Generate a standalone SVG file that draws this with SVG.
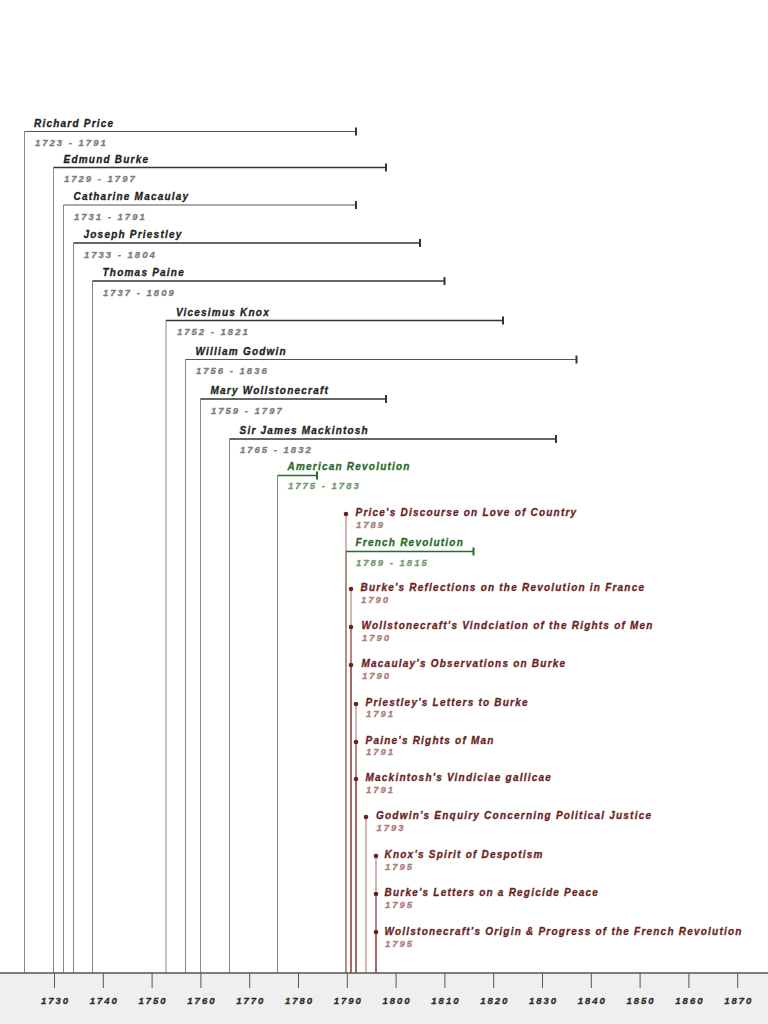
<svg xmlns="http://www.w3.org/2000/svg" width="768" height="1024" viewBox="0 0 768 1024">
<style>
text{font-family:"Liberation Sans",Arial,sans-serif;font-weight:bold;font-style:italic;stroke-width:0.3px}
.nm{font-size:10px;letter-spacing:1.22px;fill:#1e241e;stroke:#1e241e}
.dt{font-size:9.5px;letter-spacing:2px;fill:#7c7c7c;stroke:#7c7c7c}
.gn{font-size:10px;letter-spacing:1.22px;fill:#2a6a2a;stroke:#2a6a2a}
.gd{font-size:9.5px;letter-spacing:2px;fill:#6f9a6f;stroke:#6f9a6f}
.en{font-size:10px;letter-spacing:1.22px;fill:#6b1f1f;stroke:#6b1f1f}
.ey{font-size:9.5px;letter-spacing:2px;fill:#ad7c7c;stroke:#ad7c7c}
.ax{font-size:9.5px;letter-spacing:2px;fill:#2a2a2a;stroke:#2a2a2a;text-anchor:middle}
.bar{stroke:#2f372f;stroke-width:1.5;fill:none}
.bar.thin{stroke:#555;stroke-width:1}
.end{stroke:#2f372f;stroke-width:2}
.gbar{stroke:#2a6a2a;stroke-width:1.5;fill:none}
.gend{stroke:#2a6a2a;stroke-width:2}
.drop{stroke:#8a8a8a;stroke-width:1;fill:none}
.gdrop{stroke:#6f9a6f;stroke-width:1;fill:none}
.edrop{stroke:#8b2f2f;stroke-opacity:0.55;stroke-width:1.3;fill:none}
.dot{fill:#6b1f1f}
.tick{stroke:#555;stroke-width:1}
</style>

<g id="connectors">
<line class="drop" x1="24.5" y1="131.5" x2="24.5" y2="973"/>
<line class="drop" x1="53.5" y1="167.5" x2="53.5" y2="973"/>
<line class="drop" x1="63.5" y1="205" x2="63.5" y2="973"/>
<line class="drop" x1="73.5" y1="243" x2="73.5" y2="973"/>
<line class="drop" x1="92.5" y1="281" x2="92.5" y2="973"/>
<line class="drop" x1="166" y1="320.5" x2="166" y2="973"/>
<line class="drop" x1="185.5" y1="359.5" x2="185.5" y2="973"/>
<line class="drop" x1="200.5" y1="399" x2="200.5" y2="973"/>
<line class="drop" x1="229.5" y1="439" x2="229.5" y2="973"/>
<line class="gdrop" x1="277.5" y1="475.5" x2="277.5" y2="973"/>
<line class="gdrop" x1="346" y1="551.5" x2="346" y2="973"/>
<line class="edrop" x1="346" y1="514" x2="346" y2="973"/>
<line class="edrop" x1="351" y1="589" x2="351" y2="973"/>
<line class="edrop" x1="351" y1="627" x2="351" y2="973"/>
<line class="edrop" x1="351" y1="665" x2="351" y2="973"/>
<line class="edrop" x1="356" y1="704" x2="356" y2="973"/>
<line class="edrop" x1="356" y1="742" x2="356" y2="973"/>
<line class="edrop" x1="356" y1="779" x2="356" y2="973"/>
<line class="edrop" x1="366" y1="817" x2="366" y2="973"/>
<line class="edrop" x1="376" y1="856" x2="376" y2="973"/>
<line class="edrop" x1="376" y1="894" x2="376" y2="973"/>
<line class="edrop" x1="376" y1="932" x2="376" y2="973"/>
</g>

<g id="price">
<line class="bar thin" x1="24.5" y1="131.5" x2="356" y2="131.5"/>
<line class="end" x1="356" y1="127.5" x2="356" y2="135.5"/>
<text class="nm" x="34" y="127">Richard Price</text>
<text class="dt" x="35" y="146">1723 - 1791</text>
</g>
<g id="burke">
<line class="bar" x1="53.5" y1="167.5" x2="386" y2="167.5"/>
<line class="end" x1="386" y1="163.5" x2="386" y2="171.5"/>
<text class="nm" x="63.5" y="162.5">Edmund Burke</text>
<text class="dt" x="64" y="181.5">1729 - 1797</text>
</g>
<g id="macaulay">
<line class="bar thin" x1="63.5" y1="205" x2="356" y2="205"/>
<line class="end" x1="356" y1="201" x2="356" y2="209"/>
<text class="nm" x="73.5" y="200">Catharine Macaulay</text>
<text class="dt" x="74" y="219.5">1731 - 1791</text>
</g>
<g id="priestley">
<line class="bar" x1="73.5" y1="243" x2="420" y2="243"/>
<line class="end" x1="420" y1="239" x2="420" y2="247"/>
<text class="nm" x="83.5" y="238">Joseph Priestley</text>
<text class="dt" x="84" y="257.5">1733 - 1804</text>
</g>
<g id="paine">
<line class="bar" x1="92.5" y1="281" x2="444.5" y2="281"/>
<line class="end" x1="444.5" y1="277" x2="444.5" y2="285"/>
<text class="nm" x="102.5" y="276">Thomas Paine</text>
<text class="dt" x="103" y="295.5">1737 - 1809</text>
</g>
<g id="knox">
<line class="bar" x1="166" y1="320.5" x2="503" y2="320.5"/>
<line class="end" x1="503" y1="316.5" x2="503" y2="324.5"/>
<text class="nm" x="176" y="315.5">Vicesimus Knox</text>
<text class="dt" x="177" y="335">1752 - 1821</text>
</g>
<g id="godwin">
<line class="bar thin" x1="185.5" y1="359.5" x2="576.5" y2="359.5"/>
<line class="end" x1="576.5" y1="355.5" x2="576.5" y2="363.5"/>
<text class="nm" x="195.5" y="354.5">William Godwin</text>
<text class="dt" x="196" y="374">1756 - 1836</text>
</g>
<g id="wollstonecraft">
<line class="bar" x1="200.5" y1="399" x2="386" y2="399"/>
<line class="end" x1="386" y1="395" x2="386" y2="403"/>
<text class="nm" x="210.5" y="394">Mary Wollstonecraft</text>
<text class="dt" x="211" y="413.5">1759 - 1797</text>
</g>
<g id="mackintosh">
<line class="bar" x1="229.5" y1="439" x2="556" y2="439"/>
<line class="end" x1="556" y1="435" x2="556" y2="443"/>
<text class="nm" x="239.5" y="433.5">Sir James Mackintosh</text>
<text class="dt" x="240" y="453">1765 - 1832</text>
</g>
<g id="american-revolution">
<line class="gbar" x1="277.5" y1="475.5" x2="317" y2="475.5"/>
<line class="gend" x1="317" y1="471.5" x2="317" y2="479.5"/>
<text class="gn" x="287.5" y="469.5">American Revolution</text>
<text class="gd" x="288" y="488.5">1775 - 1783</text>
</g>
<g id="french-revolution">
<line class="gbar" x1="346" y1="551.5" x2="473.5" y2="551.5"/>
<line class="gend" x1="473.5" y1="547.5" x2="473.5" y2="555.5"/>
<text class="gn" x="355.5" y="546">French Revolution</text>
<text class="gd" x="356" y="565.5">1789 - 1815</text>
</g>

<g id="ev-price-discourse">
<circle class="dot" cx="346" cy="514" r="2.3"/>
<text class="en" x="355.5" y="516">Price's Discourse on Love of Country</text>
<text class="ey" x="356" y="527.5">1789</text>
</g>
<g id="ev-burke-reflections">
<circle class="dot" cx="351" cy="589" r="2.3"/>
<text class="en" x="360.5" y="591">Burke's Reflections on the Revolution in France</text>
<text class="ey" x="361" y="602.5">1790</text>
</g>
<g id="ev-wollstonecraft-vindication">
<circle class="dot" cx="351" cy="627" r="2.3"/>
<text class="en" x="361.5" y="629">Wollstonecraft's Vindciation of the Rights of Men</text>
<text class="ey" x="362" y="640.5">1790</text>
</g>
<g id="ev-macaulay-observations">
<circle class="dot" cx="351" cy="665" r="2.3"/>
<text class="en" x="361.5" y="667">Macaulay's Observations on Burke</text>
<text class="ey" x="362" y="678.5">1790</text>
</g>
<g id="ev-priestley-letters">
<circle class="dot" cx="356" cy="704" r="2.3"/>
<text class="en" x="365.5" y="705.5">Priestley's Letters to Burke</text>
<text class="ey" x="366" y="717">1791</text>
</g>
<g id="ev-paine-rights">
<circle class="dot" cx="356" cy="742" r="2.3"/>
<text class="en" x="365.5" y="743.5">Paine's Rights of Man</text>
<text class="ey" x="366" y="755">1791</text>
</g>
<g id="ev-mackintosh-vindiciae">
<circle class="dot" cx="356" cy="779" r="2.3"/>
<text class="en" x="365.5" y="781">Mackintosh's Vindiciae gallicae</text>
<text class="ey" x="366" y="792.5">1791</text>
</g>
<g id="ev-godwin-enquiry">
<circle class="dot" cx="366" cy="817" r="2.3"/>
<text class="en" x="376" y="818.5">Godwin's Enquiry Concerning Political Justice</text>
<text class="ey" x="376.5" y="830.5">1793</text>
</g>
<g id="ev-knox-spirit">
<circle class="dot" cx="376" cy="856" r="2.3"/>
<text class="en" x="384.5" y="857.5">Knox's Spirit of Despotism</text>
<text class="ey" x="385" y="869.5">1795</text>
</g>
<g id="ev-burke-letters">
<circle class="dot" cx="376" cy="894" r="2.3"/>
<text class="en" x="384.5" y="895.5">Burke's Letters on a Regicide Peace</text>
<text class="ey" x="385" y="907.5">1795</text>
</g>
<g id="ev-wollstonecraft-origin">
<circle class="dot" cx="376" cy="932" r="2.3"/>
<text class="en" x="384.5" y="934.5">Wollstonecraft's Origin &amp; Progress of the French Revolution</text>
<text class="ey" x="385" y="946.5">1795</text>
</g>

<g id="axis">
<rect x="0" y="973" width="768" height="51" fill="#efefef"/>
<line x1="0" y1="973" x2="768" y2="973" stroke="#555" stroke-width="1.5"/>
<g class="tick">
<line x1="54.5" y1="973" x2="54.5" y2="988"/>
<line x1="103.3" y1="973" x2="103.3" y2="988"/>
<line x1="152.1" y1="973" x2="152.1" y2="988"/>
<line x1="200.9" y1="973" x2="200.9" y2="988"/>
<line x1="249.7" y1="973" x2="249.7" y2="988"/>
<line x1="298.5" y1="973" x2="298.5" y2="988"/>
<line x1="347.3" y1="973" x2="347.3" y2="988"/>
<line x1="396.1" y1="973" x2="396.1" y2="988"/>
<line x1="444.9" y1="973" x2="444.9" y2="988"/>
<line x1="493.7" y1="973" x2="493.7" y2="988"/>
<line x1="542.5" y1="973" x2="542.5" y2="988"/>
<line x1="591.3" y1="973" x2="591.3" y2="988"/>
<line x1="640.1" y1="973" x2="640.1" y2="988"/>
<line x1="688.9" y1="973" x2="688.9" y2="988"/>
<line x1="737.7" y1="973" x2="737.7" y2="988"/>
</g>
<text class="ax" x="55.5" y="1004">1730</text>
<text class="ax" x="104.3" y="1004">1740</text>
<text class="ax" x="153.1" y="1004">1750</text>
<text class="ax" x="201.9" y="1004">1760</text>
<text class="ax" x="250.7" y="1004">1770</text>
<text class="ax" x="299.5" y="1004">1780</text>
<text class="ax" x="348.3" y="1004">1790</text>
<text class="ax" x="397.1" y="1004">1800</text>
<text class="ax" x="445.9" y="1004">1810</text>
<text class="ax" x="494.7" y="1004">1820</text>
<text class="ax" x="543.5" y="1004">1830</text>
<text class="ax" x="592.3" y="1004">1840</text>
<text class="ax" x="641.1" y="1004">1850</text>
<text class="ax" x="689.9" y="1004">1860</text>
<text class="ax" x="738.7" y="1004">1870</text>
</g>
</svg>
